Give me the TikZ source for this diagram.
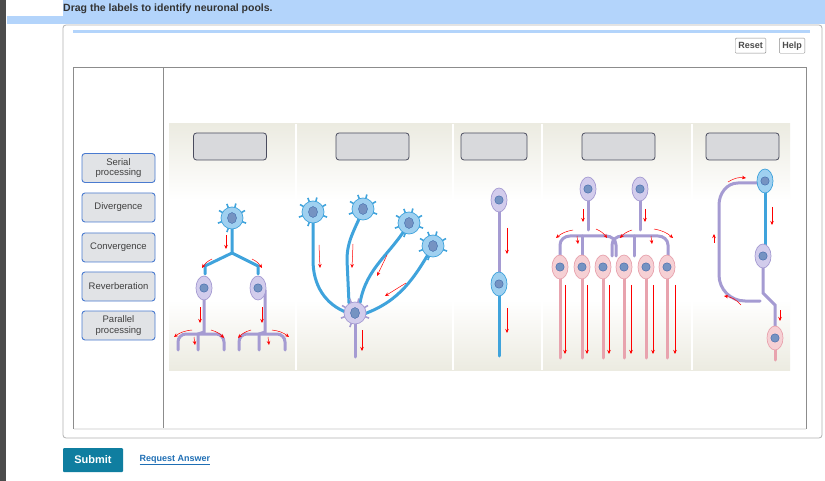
\documentclass[tikz,border=0pt]{standalone}
\usepackage{fontspec}
\setmainfont{Liberation Sans}
\usetikzlibrary{arrows.meta}
\definecolor{hdr}{HTML}{B3D4FB}
\definecolor{beige}{HTML}{ECEBE1}
\definecolor{btnfill}{HTML}{E1E3E6}
\definecolor{btnblue}{HTML}{4A7BD0}
\definecolor{dropfill}{HTML}{D8D9DC}
\definecolor{dropedge}{HTML}{4A4C5E}
\definecolor{nblue}{HTML}{3FA3DC}
\definecolor{nbluel}{HTML}{9FD0F0}
\definecolor{npurp}{HTML}{A59BD2}
\definecolor{npurpl}{HTML}{D2CCEC}
\definecolor{npink}{HTML}{E8A3AE}
\definecolor{npinkl}{HTML}{F6D0D4}
\definecolor{nuc}{HTML}{3A64A8}
\definecolor{teal}{HTML}{0F7EA0}
\definecolor{linkblue}{HTML}{1F6FB5}
\tikzset{
 lbl/.style={draw=btnblue,line width=0.9pt,fill=btnfill,rounded corners=3pt,minimum width=73pt,minimum height=29pt,align=center,font=\fontsize{9.5}{10.5}\selectfont,text=black!75,inner xsep=1pt},
 drop/.style={draw=dropedge,fill=dropfill,rounded corners=3pt,minimum width=73pt,minimum height=27pt,line width=0.8pt},
 smallbtn/.style={draw=black!45,fill=white,rounded corners=1pt,font=\bfseries\fontsize{9}{10}\selectfont,text=black!70,minimum height=15pt,inner xsep=3pt},
 axb/.style={line width=3pt,nblue,line cap=round},
 axp/.style={line width=3pt,npurp,line cap=round},
 axk/.style={line width=3pt,npink,line cap=round},
 ra/.style={red,line width=0.5pt,-{Stealth[length=4pt,width=3.5pt]}},
}
\newcommand\body[4]{% x y fill edge
 \fill[#3,draw=#4,line width=0.7pt] (#1,#2) ellipse (8pt and 12pt);
 \fill[nuc!70,draw=nuc] (#1,#2) circle (4.2pt);}
\newcommand\starcell[4]{% x y fill edge
 \foreach \a in {30,75,110,150,200,250,340}{\draw[#4,line width=1.6pt] (#1,#2) -- ++(\a:15pt);}
 \fill[#3,draw=#4,line width=0.7pt] (#1,#2) circle (11pt);
 \fill[nuc!70,draw=nuc] (#1,#2) ellipse (4.5pt and 5.5pt);}
\begin{document}
\begin{tikzpicture}[x=1pt,y=-1pt]
\useasboundingbox (0,0) rectangle (825,481);
\fill[white] (0,0) rectangle (825,481);
\fill[black!70] (0,0) rectangle (6,481);
% header
\fill[hdr] (63,0) rectangle (825,24);
\fill[hdr] (7,16) rectangle (63,24);
\node[anchor=west,font=\bfseries\fontsize{10.5}{12}\selectfont,text=black!80,inner xsep=1pt] (title) at (62,9) {Drag the labels to identify neuronal pools.};
% outer panel
\draw[black!30,rounded corners=3pt,line width=0.8pt] (63,25) rectangle (822,438);
\draw[hdr,line width=3pt] (73,32) -- (810,32);
\node[smallbtn,anchor=north east] (reset) at (766,38) {Reset};
\node[smallbtn,anchor=north east] (help) at (805,38) {Help};
% inner frame
\draw[black!45,line width=0.7pt] (73,67) rectangle (806,428);
\draw[black!45,line width=0.7pt] (163,67) -- (163,428);
\fill[black!8] (74,428) rectangle (806,430);
% labels
\node[lbl] (l1) at (118.5,168) {Serial\\processing};
\node[lbl] (l2) at (118.5,207.5) {Divergence};
\node[lbl] (l3) at (118.5,247.5) {Convergence};
\node[lbl] (l4) at (118.5,286.5) {Reverberation};
\node[lbl] (l5) at (118.5,325.5) {Parallel\\processing};
% diagram background
\shade[top color=beige,bottom color=white] (169,124) rectangle (790,200);
\fill[white] (169,200) rectangle (790,300);
\shade[top color=white,bottom color=beige] (169,300) rectangle (790,370);
\foreach \x in {296,453,542,692}{\draw[white,line width=1.2pt] (\x,124) -- (\x,370);}
% drop boxes
\node[drop] (d1) at (230,146.5) {};
\node[drop] (d2) at (372.5,146.5) {};
\node[drop,minimum width=66pt] (d3) at (494,146.5) {};
\node[drop] (d4) at (618.5,146.5) {};
\node[drop] (d5) at (742.5,146.5) {};
% ---- panel 1: divergence
\draw[axb] (232,218) -- (232,253) -- (205,266) -- (205,274);
\draw[axb] (232,253) -- (258,266) -- (258,274);
\foreach \cx in {201,262}{
 \draw[axp] (\cx+3,290) -- (\cx+3,332) -- (\cx-3,334) -- (\cx-3,350);
 \draw[axp] (\cx-23,350) -- (\cx-23,342) to[out=90,in=180] (\cx-15,334) -- (\cx+15,334) to[out=0,in=90] (\cx+23,342) -- (\cx+23,350);
}
\body{204}{288}{npurpl}{npurp}
\body{258}{288}{npurpl}{npurp}
\starcell{232}{218}{nbluel}{nblue}
\draw[ra] (226,235) -- (226,249);
\draw[ra] (212,259) to[bend right=15] (202,268);
\draw[ra] (252,259) to[bend left=15] (262,268);
\draw[ra] (200,307) -- (200,323);
\draw[ra] (262,307) -- (262,323);
\draw[ra] (192,330) to[bend right=15] (174,337);
\draw[ra] (194,337) -- (195,345);
\draw[ra] (211,330) to[bend left=15] (224,338);
\draw[ra] (251,330) to[bend right=15] (238,338);
\draw[ra] (268,337) -- (269,345);
\draw[ra] (272,330) to[bend left=15] (289,337);
% ---- panel 2: convergence
\draw[axp] (355,313) -- (355,357);
\draw[axb] (313,212) -- (313,260) to[out=-90,in=160] (348,313);
\draw[axb] (363,209) to[out=-110,in=90] (347,260) -- (349,303);
\draw[axb] (409,223) to[out=-120,in=80] (360,303);
\draw[axb] (433,246) to[out=-120,in=20] (364,314);
\starcell{355}{313}{npurpl}{npurp}
\starcell{313}{212}{nbluel}{nblue}
\starcell{363}{209}{nbluel}{nblue}
\starcell{409}{223}{nbluel}{nblue}
\starcell{433}{246}{nbluel}{nblue}
\draw[ra] (319,245) -- (320,268);
\draw[ra] (353,244) -- (352,268);
\draw[ra] (387,255) -- (377,276);
\draw[ra] (406,283) -- (385,296);
\draw[ra] (362,330) -- (362,351);
% ---- panel 3: serial
\draw[axp] (499,200) -- (499,280);
\draw[axb] (499,284) -- (499,356);
\body{499}{200}{npurpl}{npurp}
\body{499}{284}{nbluel}{nblue}
\draw[ra] (507,228) -- (507,254);
\draw[ra] (507,308) -- (507,333);
% ---- panel 4: parallel
\foreach \cx in {588,640}{
 \draw[axp] (\cx,190) -- (\cx,230);
 \draw[axp] (\cx-28,256) -- (\cx-28,245) to[out=90,in=180] (\cx-18,236) -- (\cx+18,236) to[out=0,in=90] (\cx+28,245) -- (\cx+28,256);
 \draw[axp] (\cx-6,236) -- (\cx-6,256);
 \body{\cx}{189}{npurpl}{npurp}
}
\foreach \cx in {560,582,603,624,646,667}{
 \draw[axk] (\cx,268) -- (\cx,358);
 \body{\cx}{267}{npinkl}{npink}
}
\draw[ra] (583,209) -- (583,222);
\draw[ra] (645,209) -- (645,222);
\draw[ra] (573,230) to[bend right=15] (556,238);
\draw[ra] (577,236) -- (578,244);
\draw[ra] (596,229) to[bend left=15] (607,238);
\draw[ra] (632,230) to[bend right=15] (620,238);
\draw[ra] (651,236) -- (652,244);
\draw[ra] (654,229) to[bend left=15] (673,238);
\foreach \cx in {565,587,609,631,653,675}{\draw[ra] (\cx,285) -- (\cx,354);}
% ---- panel 5: reverberation
\draw[axp] (760,183) -- (738,183) to[out=180,in=90] (719,205) -- (719,275) to[out=-90,in=180] (745,301) -- (760,301);
\draw[axp] (763,258) -- (763,293) -- (775,305) -- (775,326);
\draw[axb] (765,183) -- (765,248);
\draw[axk] (775,340) -- (775,360);
\body{765}{181}{nbluel}{nblue}
\body{763}{256}{npurpl}{npurp}
\body{775}{338}{npinkl}{npink}
\draw[ra] (728,182) to[bend left=20] (746,178);
\draw[ra] (772,207) -- (772,225);
\draw[ra] (714,243) -- (714,234);
\draw[ra] (741,305) to[bend right=20] (724,296);
\draw[ra] (780,310) -- (780,321);
% footer
\node[fill=teal,text=white,font=\bfseries\fontsize{11}{12}\selectfont,minimum width=60pt,minimum height=24pt,rounded corners=1pt] (submit) at (93,460) {Submit};
\node[anchor=west,text=linkblue,font=\bfseries\fontsize{9}{10}\selectfont] (req) at (136,460) {\underline{Request Answer}};
\end{tikzpicture}
\end{document}
